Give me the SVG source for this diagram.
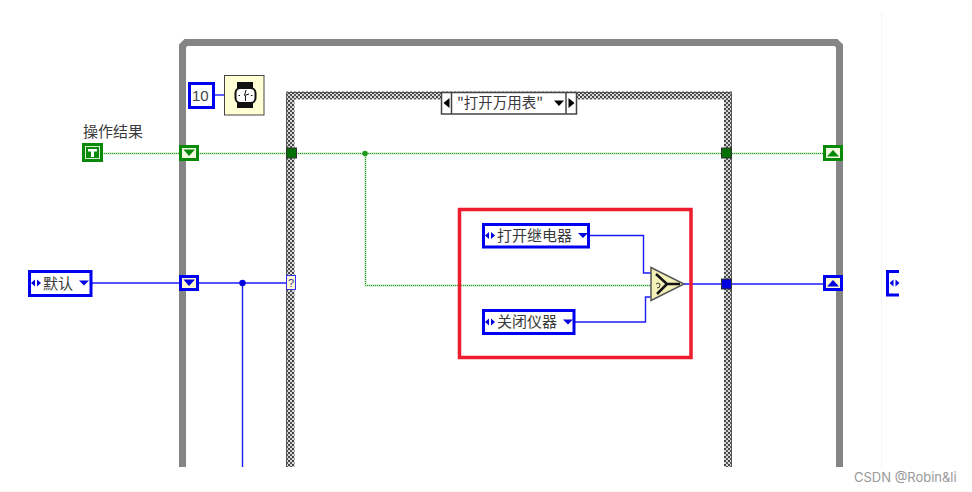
<svg xmlns="http://www.w3.org/2000/svg" width="972" height="492" viewBox="0 0 972 492">
<style>
.t{font-family:"Noto Sans CJK SC","Liberation Sans",sans-serif;fill:#3a3a3a}
.blue{fill:none;stroke:#1a1aff;stroke-width:1.4}
.green-base{fill:none;stroke:#c4e6c4;stroke-width:2}
.green{fill:none;stroke:#18a018;stroke-width:1;stroke-dasharray:1 1}
.enum{fill:#fff;stroke:#0000f0;stroke-width:3}
.tb{fill:#fff8d0;stroke:#0000f0;stroke-width:3}
.tg{fill:#f4fbe0;stroke:#088a08;stroke-width:3}
</style>
<defs>
<pattern id="chk" width="4" height="4" patternUnits="userSpaceOnUse">
<rect width="4" height="4" fill="#d8d8d8"/>
<rect width="2" height="2" fill="#444"/>
<rect x="2" y="2" width="2" height="2" fill="#555"/>
</pattern>
<g id="arrows"><path d="M-5-2.500L-1-6V1ZM5-2.500L1-6V1Z" fill="#0000e0"/></g>
</defs>
<rect width="972" height="492" fill="#fff"/>
<path d="M881.500 12V467" stroke="#f5f5f5" stroke-width="1"/>
<path d="M0 491.500H972" stroke="#f8f8f8" stroke-width="1"/>

<g id="while-loop">
<path d="M182.500 467V46L186 42.500H836L839.500 46V467" fill="none" stroke="#858585" stroke-width="7"/>
</g>
<g id="case-frame">
<path d="M290.500 467V95.500H728V467" fill="none" stroke="url(#chk)" stroke-width="8"/>
<path d="M286.500 467V92.500H731.500V467" fill="none" stroke="#555" stroke-width="1"/>
</g>

<g id="connectors">
<path class="green-base" d="M102 153.500H823"/>
<path class="green-base" d="M365.500 153V285.500H651"/>
<path class="green" d="M102 153.500H823"/>
<path class="green" d="M365.500 153V285.500H651"/>
<path class="blue" d="M92 283H286"/>
<path class="blue" d="M242.500 283V467"/>
<path class="blue" d="M214 95H224"/>
<path class="blue" d="M590 235.500H643.500V273H651"/>
<path class="blue" d="M575 322H645.500V297H651"/>
<path class="blue" d="M684 284H823"/>
<circle cx="365" cy="153.500" r="2.800" fill="#1e9a1e"/>
<circle cx="242.500" cy="283" r="3.200" fill="#0000e0"/>
</g>

<g id="selector">
<rect x="441.500" y="92.500" width="135" height="21.500" fill="#fff" stroke="#444" stroke-width="1.500"/>
<path d="M451.500 92.500V114M566 92.500V114" stroke="#444" stroke-width="1.500"/>
<path d="M443.500 103L449.500 98V108ZM574.500 103L568.500 98V108ZM554 100.500H564L559 106Z" fill="#000"/>
<text class="t" x="457" y="108" font-size="14.500">"打开万用表"</text>
</g>

<g id="timer-const">
<rect x="189.500" y="83.500" width="24" height="24" fill="#fff" stroke="#0000f0" stroke-width="3"/>
<text x="192" y="101" font-size="15" font-family="'Liberation Sans',sans-serif" fill="#444">10</text>
</g>
<g id="timer">
<rect x="224.500" y="75.500" width="39.500" height="39.500" fill="#ffffd4" stroke="#444" stroke-width="1"/>
<rect x="237" y="82" width="16" height="26" fill="#111"/>
<rect x="235.500" y="88" width="20" height="15" rx="5" fill="#fff" stroke="#111" stroke-width="2"/>
<path d="M246 90L244.500 95.500L249 94M245.500 96V101M238.500 95.500H240M251 95.500H252.500" fill="none" stroke="#111" stroke-width="1"/>
</g>

<g id="result-label"><text class="t" x="83" y="137" font-size="15">操作结果</text></g>
<g id="result-terminal">
<rect x="83.500" y="144.500" width="18" height="16" fill="#0b8a0b" stroke="#088a08" stroke-width="3"/>
<rect x="85.500" y="146.500" width="14" height="12" fill="#0b8a0b" stroke="#d8f0d8" stroke-width="1"/>
<path d="M88 149H97V151.500H94V157H91V151.500H88Z" fill="#fff"/>
</g>
<g id="tunnel-green-in">
<rect x="180.500" y="146.500" width="17" height="13" class="tg"/>
<path d="M183.500 149.500H195L189 156Z" fill="#0a8a0a"/>
</g>
<g id="tunnel-green-case-left"><rect x="286.500" y="148" width="10" height="10" fill="#067006" stroke="#333" stroke-width="1"/></g>
<g id="tunnel-green-case-right"><rect x="721.500" y="148" width="10" height="10" fill="#067006" stroke="#333" stroke-width="1"/></g>
<g id="tunnel-green-out">
<rect x="824.500" y="146.500" width="17" height="13" class="tg"/>
<path d="M827 156.500H839L833 150Z" fill="#0a8a0a"/>
</g>

<g id="default-enum">
<rect x="29.500" y="271.500" width="61.500" height="24" class="enum"/>
<use href="#arrows" x="36" y="285.500"/>
<text class="t" x="43" y="289" font-size="15">默认</text>
<path d="M79 280.500H89L84 285.500Z" fill="#0000e0"/>
</g>
<g id="tunnel-blue-in">
<rect x="180.500" y="276.500" width="17" height="13" class="tb"/>
<path d="M183.500 279.500H195L189 286Z" fill="#0000e0"/>
</g>
<g id="tunnel-selector">
<rect x="286.500" y="275.500" width="9" height="14" fill="#fff8d0" stroke="#3030f0" stroke-width="1"/>
<text x="288" y="287" font-size="11" font-family="'Liberation Sans',sans-serif" fill="#3030a0">?</text>
</g>
<g id="tunnel-blue-case"><rect x="721.500" y="279" width="10" height="10" fill="#0000e0" stroke="#333" stroke-width="1"/></g>
<g id="tunnel-blue-out">
<rect x="824.500" y="276.500" width="17" height="13" class="tb"/>
<path d="M827 286.500H839L833 280Z" fill="#0000e0"/>
</g>
<g id="cut-enum">
<path d="M899 271.500H887.500V295H899" fill="none" stroke="#0000f0" stroke-width="3"/>
<use href="#arrows" x="894.500" y="285.500"/>
</g>

<g id="highlight"><rect x="459.500" y="209.500" width="231.500" height="148" fill="none" stroke="#ee1c2e" stroke-width="3.500"/></g>

<g id="enum-open-relay">
<rect x="483.500" y="224.500" width="105" height="22.500" class="enum"/>
<use href="#arrows" x="490" y="238"/>
<text class="t" x="497" y="241" font-size="15">打开继电器</text>
<path d="M578 233H588L583 238Z" fill="#0000e0"/>
</g>
<g id="enum-close">
<rect x="483.500" y="310.500" width="90.500" height="23" class="enum"/>
<use href="#arrows" x="490" y="324.500"/>
<text class="t" x="497" y="327" font-size="15">关闭仪器</text>
<path d="M563 319.500H573L568 324.500Z" fill="#0000e0"/>
</g>
<g id="select">
<path d="M651 267.500L684 284L651 300.500Z" fill="#f3f0b8" stroke="#555" stroke-width="1.500"/>
<path d="M656 274L667 284L657 294M667 284H680" fill="none" stroke="#111" stroke-width="2.500"/>
<path d="M656 284q4-2 4 1t-3 3" fill="none" stroke="#333" stroke-width="1"/>
</g>

<g id="watermark"><text x="854" y="482" font-size="13" font-family="'Inter','Liberation Sans',sans-serif" fill="#999">CSDN @Robin&amp;li</text></g>
</svg>
